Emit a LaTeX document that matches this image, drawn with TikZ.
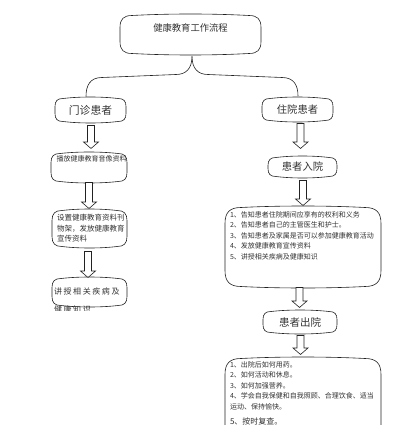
\documentclass[tikz,border=0pt]{standalone}
\usepackage{fontspec}
\setmainfont{Noto Sans CJK SC}
\newfontfamily\spacedcjk[LetterSpace=20]{Noto Sans CJK SC}
\usetikzlibrary{calc}
\definecolor{ink}{HTML}{222222}
\definecolor{txt}{HTML}{333333}
\tikzset{
  frame/.style={draw=none, inner sep=0pt, outer sep=0pt},
  boxline/.style={draw=ink, line width=0.6pt, fill=white},
  conn/.style={draw=ink, line width=0.6pt},
  lbl/.style={text=txt, inner sep=0pt, outer sep=0pt},
}
% outline of a box: #1 node name, #2 corner radius (pt)
\newcommand\outl[2]{%
  \path[boxline] let \p1=(#1.north west), \p2=(#1.south east) in
   (\x1,{\y1-#2pt}) -- (\x1,{\y2+#2pt})
   .. controls (\x1,{\y2+0.3*#2pt}) and ({\x1+0.3*#2pt},\y2) .. ({\x1+#2pt},\y2)
   .. controls ({\x1+0.35*(\x2-\x1)},{\y2-2pt}) and ({\x2-0.35*(\x2-\x1)},{\y2-2pt}) .. ({\x2-#2pt},\y2)
   .. controls ({\x2-0.3*#2pt},\y2) and (\x2,{\y2+0.3*#2pt}) .. (\x2,{\y2+#2pt})
   -- (\x2,{\y1-#2pt})
   .. controls (\x2,{\y1-0.3*#2pt}) and ({\x2-0.3*#2pt},\y1) .. ({\x2-#2pt},\y1)
   .. controls ({\x2-0.35*(\x2-\x1)},{\y1+2pt}) and ({\x1+0.35*(\x2-\x1)},{\y1+2pt}) .. ({\x1+#2pt},\y1)
   .. controls ({\x1+0.3*#2pt},\y1) and (\x1,{\y1-0.3*#2pt}) .. (\x1,{\y1-#2pt}) -- cycle;}
% hollow block arrow: from, to, gap at start, gap at end, x offset
\newcommand\barrow[5]{%
  \path[conn, fill=white] let \p1=($(#1.south)+(#5,#3)$), \p2=($(#2.north)+(0,-#4)$) in
   ({\x1-3.5pt},\y1) -- ({\x1+3.5pt},\y1) -- ({\x1+3.5pt},{\y2+6.5pt})
   -- ({\x1+7.5pt},{\y2+6.5pt}) -- (\x1,\y2) -- ({\x1-7.5pt},{\y2+6.5pt})
   -- ({\x1-3.5pt},{\y2+6.5pt}) -- cycle;}
\begin{document}
\begin{tikzpicture}[x=1pt, y=-1pt]
\clip (0,0) rectangle (400,425);
\fill[white] (0,0) rectangle (400,425);
% frames
\node[frame, minimum width=141pt, minimum height=38pt] (top) at (190.5,34.5) {};
\node[frame, minimum width=71pt, minimum height=23pt] (mz) at (90.5,110) {};
\node[frame, minimum width=71pt, minimum height=22pt] (zy) at (297.5,109.5) {};
\node[frame, minimum width=76pt, minimum height=28pt] (bf) at (89,167.5) {};
\node[frame, minimum width=75pt, minimum height=36pt] (b3) at (89.5,228.5) {};
\node[frame, minimum width=75pt, minimum height=27pt] (b4) at (89.5,292) {};
\node[frame, minimum width=69pt, minimum height=19pt] (ry) at (302.5,167) {};
\node[frame, minimum width=156pt, minimum height=79pt] (k1) at (303,247) {};
\node[frame, minimum width=74pt, minimum height=21pt] (cy) at (300,322) {};
\node[frame, minimum width=156pt, minimum height=96pt] (k2) at (303,406.5) {};
% outlines
\outl{top}{12}
\outl{mz}{8}
\outl{zy}{8}
\outl{bf}{9}
\outl{b3}{10}
\outl{b4}{9}
\outl{ry}{8}
\outl{k1}{16}
\outl{cy}{8}
\outl{k2}{16}
% brace connector
\coordinate (bt) at ($(top.south)+(1.5,3)$);
\coordinate (bl) at ($(mz.north)+(-4.5,-2)$);
\coordinate (br) at ($(zy.north)+(0.5,-2.5)$);
\draw[conn] (bt) .. controls ($(bt)+(0,12)$) and ($(bt)+(-6,18)$) .. ($(bt)+(-16,18)$)
  -- ($(bl)+(16,-19)$) .. controls ($(bl)+(4,-19)$) and ($(bl)+(0,-11)$) .. (bl);
\draw[conn] (bt) .. controls ($(bt)+(0,12)$) and ($(bt)+(6,18)$) .. ($(bt)+(16,18)$)
  -- ($(br)+(-16,-18.5)$) .. controls ($(br)+(-4,-18.5)$) and ($(br)+(0,-10.5)$) .. (br);
% block arrows
\barrow{mz}{bf}{4}{5}{0.5}
\barrow{bf}{b3}{1}{2}{0}
\barrow{b3}{b4}{5}{1}{-1.5}
\barrow{zy}{ry}{3}{9}{3}
\barrow{ry}{k1}{4}{2}{0.5}
\barrow{k1}{cy}{1}{4}{-3.5}
\barrow{cy}{k2}{3}{4}{0.5}
% labels
\node[lbl, font=\fontsize{9.3}{11}\selectfont] (ttop) at (190.5,28) {健康教育工作流程};
\node[lbl, font=\fontsize{10.8}{13}\selectfont] (tmz) at (mz.center) {门诊患者};
\node[lbl, font=\fontsize{10.3}{13}\selectfont] (tzy) at (zy.center) {住院患者};
\node[lbl, font=\fontsize{10.3}{13}\selectfont] (try) at (ry.center) {患者入院};
\node[lbl, font=\fontsize{10.5}{13}\selectfont] (tcy) at (cy.center) {患者出院};
\node[lbl, anchor=west, font=\fontsize{7}{10}\selectfont] (tbf) at (56.5,159) {播放健康教育音像资料};
\node[lbl, anchor=north west, align=left, font=\fontsize{7.5}{10.5}\selectfont] (tb3) at (57,214.25)
  {设置健康教育资料刊\\物架，发放健康教育\\宣传资料};
\begin{scope}
\clip (0,0) rectangle (400,310.5);
\node[lbl, anchor=north west, align=left, font=\fontsize{8}{18}\spacedcjk] (tb4) at (54,288)
  {讲授相关疾病及\\健康知识};
\end{scope}
\node[lbl, anchor=north west, align=left, font=\fontsize{7}{10.5}\selectfont] (tk1) at (230,211.5)
  {1、告知患者住院期间应享有的权利和义务\\
   2、告知患者自己的主管医生和护士。\\
   3、告知患者及家属是否可以参加健康教育活动\\
   4、发放健康教育宣传资料\\
   5、讲授相关疾病及健康知识};
\node[lbl, anchor=north west, align=left, font=\fontsize{7}{10.5}\selectfont] (tk2) at (230,361.5)
  {1、出院后如何用药。\\
   2、如何活动和休息。\\
   3、如何加强营养。\\
   4、学会自我保健和自我照顾、合理饮食、适当\\
   运动、保持愉快。\\[5pt]
   {\fontsize{8}{10.5}\selectfont 5、按时复查。}};
\end{tikzpicture}
\end{document}
